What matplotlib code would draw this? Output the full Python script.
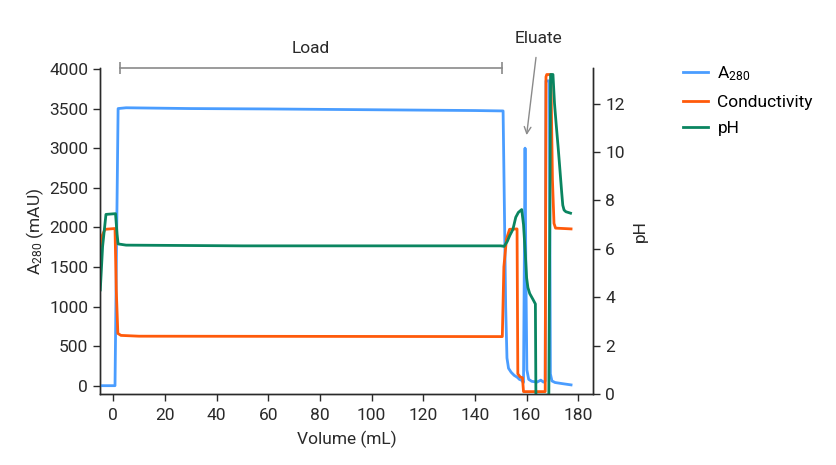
import matplotlib.pyplot as plt
import numpy as np

plt.rcParams['font.family'] = ['Roboto', 'DejaVu Sans']
plt.rcParams['mathtext.default'] = 'regular'

# ============================================================================
# DATA: chromatogram traces
# ============================================================================

# A280 (mAU)
a280_vol = [-5, 0.7, 1.3, 1.9, 5, 10, 30, 60, 100, 140, 150.9, 151.3, 151.9,
            152.4, 153.0, 154, 155.2, 156.2, 156.6, 157.2, 158, 158.8, 159.1, 159.4,
            159.7, 160.1, 160.8, 162, 164, 165.5, 166.5, 167.2, 167.5, 167.8,
            168.8, 169.2, 169.8, 171, 174, 177.2]
a280_val = [0, 0, 1800, 3500, 3510, 3508, 3500, 3495, 3485, 3475, 3470, 2500, 1000,
            350, 220, 170, 130, 110, 100, 80, 70, 40, 1500, 3000,
            1500, 200, 80, 55, 45, 70, 45, 60, 3850, 3850,
            3850, 150, 60, 40, 25, 10]

# Conductivity (plotted on the A280 scale)
cond_vol = [-5, -4.2, -3.2, 0.7, 1.2, 1.8, 3, 10, 150.6, 151.2, 152.2, 153.4,
            156.3, 156.6, 157.5, 158.4, 158.8, 167.2, 167.5, 167.8, 169.4,
            170.0, 170.6, 171.2, 177.2]
cond_val = [1730, 1900, 1975, 1985, 1200, 660, 635, 625, 620, 1500, 1850, 1975,
            1980, 150, 110, 100, -75, -75, 3900, 3930, 3930,
            2600, 2050, 1990, 1980]

# pH
ph_vol = [-5, -4.1, -2.8, 0.9, 1.5, 1.9, 5, 50, 100, 150, 151.3, 152.5, 153.5,
          154.7, 155.8, 156.8, 158.1, 158.8, 159.5, 160.0, 160.5, 161.2, 162.5,
          163.4, 163.6, 168.6, 169.3, 170.2, 170.8, 171.4, 172.2, 172.9, 173.6,
          174.0, 174.5, 175.2, 177.0]
ph_val = [4.3, 6.1, 7.42, 7.45, 6.6, 6.2, 6.15, 6.12, 6.12, 6.12, 6.1, 6.3, 6.55,
          6.8, 7.3, 7.5, 7.62, 7.0, 5.8, 4.8, 4.4, 4.15, 3.9,
          3.72, -0.05, -0.05, 13.2, 13.2, 12.0, 11.2, 10.2, 9.26, 8.3,
          7.8, 7.6, 7.53, 7.47]

load_range = (2.6, 150.3)
eluate_xy = (160.0, 3165)

blue = '#4a9dff'
orange = '#ff5a0a'
green = '#0a8560'
ink = '#2a2a2a'
gray = '#8a8a8a'

# ============================================================================
# FIGURE
# ============================================================================

fig = plt.figure(figsize=(8.37, 4.65), dpi=100)
ax = fig.add_axes([0.1195, 0.1527, 0.5893, 0.7017])
ax2 = ax.twinx()

l1, = ax.plot(a280_vol, a280_val, color=blue, lw=2.0, label='A$_{280}$', zorder=3)
l2, = ax.plot(cond_vol, cond_val, color=orange, lw=2.0, label='Conductivity', zorder=4)
l3, = ax2.plot(ph_vol, ph_val, color=green, lw=2.0, label='pH')

ax.set_xlim(-5.1, 185.8)
ax.set_ylim(-105, 4016)
ax2.set_ylim(0, 13.48)

ax.set_xticks(np.arange(0, 181, 20))
ax.set_yticks(np.arange(0, 4001, 500))
ax2.set_yticks(np.arange(0, 13, 2))

for a in (ax, ax2):
    a.spines['top'].set_visible(False)
    for s in a.spines.values():
        s.set_color(ink)
        s.set_linewidth(1.0)
    a.tick_params(colors=ink, labelsize=12.5, length=5, width=1.0)
ax.tick_params(axis='x', pad=5)

ax.set_xlabel('Volume (mL)', fontsize=12.5, color=ink, labelpad=6)
ax.set_ylabel('A$_{280}$ (mAU)', fontsize=12.5, color=ink, labelpad=2)
ax2.set_ylabel('pH', fontsize=12.5, color=ink, labelpad=6)

# Load bracket
ax.plot(load_range, [1, 1], transform=ax.get_xaxis_transform(), color=gray,
        lw=1.2, marker='|', markersize=8, markeredgewidth=1.2, clip_on=False)
ax.text(sum(load_range) / 2, 1.058, 'Load', transform=ax.get_xaxis_transform(),
        ha='center', va='center', fontsize=12.5, color=ink)

# Eluate arrow
ax.annotate('Eluate', xy=eluate_xy, xytext=(164.5, 4380), ha='center', va='center',
            fontsize=12.5, color=ink, annotation_clip=False,
            arrowprops=dict(arrowstyle='->', color=gray, lw=1.0, shrinkA=6, shrinkB=0,
                            mutation_scale=12))

fig.legend(handles=[l1, l2, l3], loc='upper left', bbox_to_anchor=(0.797, 0.895),
           frameon=False, fontsize=12.5, handlelength=1.45, handletextpad=0.55,
           labelspacing=0.65)

fig.savefig('out.png', dpi=100, facecolor='white')
